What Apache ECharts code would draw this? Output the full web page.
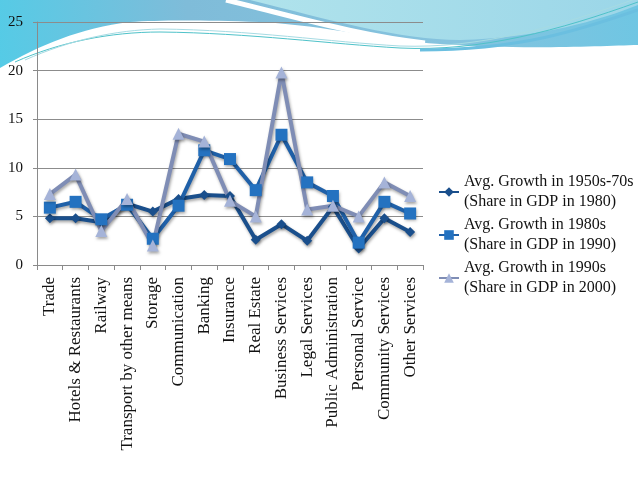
<!DOCTYPE html>
<html><head><meta charset="utf-8">
<script src="https://cdn.jsdelivr.net/npm/echarts@6/dist/echarts.min.js"></script>
<style>html,body{margin:0;padding:0;background:#fff}#c{width:638px;height:478px}</style>
</head><body><div id="c"></div>
<script>
var categories = ["Trade","Hotels & Restaurants","Railway","Transport by other means","Storage","Communication","Banking","Insurance","Real Estate","Business Services","Legal Services","Public Administration","Personal Service","Community Services","Other Services"];
var seriesNames = ["Avg. Growth in 1950s-70s\n(Share in GDP in 1980)","Avg. Growth in 1980s\n(Share in GDP in 1990)","Avg. Growth in 1990s\n(Share in GDP in 2000)"];
var growth5070 = [4.8,4.8,4.4,6.3,5.5,6.8,7.2,7.1,2.6,4.2,2.5,6.0,1.7,4.8,3.4];
var growth80s = [5.9,6.5,4.7,6.2,2.7,6.1,11.8,10.9,7.7,13.4,8.5,7.1,2.3,6.5,5.3];
var growth90s = [7.3,9.3,3.5,6.8,2.0,13.5,12.7,6.6,5.0,19.8,5.7,6.1,5.0,8.5,7.1];
var yTicks = {min:0, max:25, interval:5};

var decoPaths = {
  band: 'M0,0 L638,0 L638,45 C600,46 520,50 440,44 C380,40 330,26 260,22 C200,20 160,20 130,22 C80,28 40,45 0,68 Z',
  cyan: 'M250,0 L638,0 L638,5 C600,20 540,38 460,40 C400,40 330,20 250,0 Z',
  strip: 'M226,0 C300,18 360,36 425,43',
  thin1: 'M15,62 C60,42 110,32 160,32 C250,33 330,44 400,48 C480,52 560,30 638,2',
  thin2: 'M25,60 C70,40 115,30 160,29 C250,30 330,42 400,46 C480,49 560,26 638,-2',
  stripe: 'M420,50 C520,50 580,30 638,10'
};
var deco = [];
var decoStyles = {
  band:{fill:{type:'linear',x:0,y:1,x2:1,y2:0,colorStops:[{offset:0,color:'#55cbe6'},{offset:0.3,color:'#7fbcd9'},{offset:0.7,color:'#86c3de'},{offset:1,color:'#6fc6e3'}]}},
  cyan:{fill:{type:'linear',x:0,y:0,x2:1,y2:0,colorStops:[{offset:0,color:'#b0e3ec'},{offset:1,color:'#9bd6e8'}]}},
  strip:{fill:null, stroke:'#ffffff', lineWidth:5},
  thin1:{fill:null, stroke:'#4fc2c9', lineWidth:1},
  thin2:{fill:null, stroke:'#a6dbe3', lineWidth:1},
  stripe:{fill:null, stroke:'#6bbfe0', lineWidth:3}
};
Object.keys(decoPaths).forEach(function(k, i){
  try {
    echarts.graphic.registerShape('deco_' + k, echarts.graphic.extendPath(decoPaths[k], {}));
    deco.push({type:'deco_' + k, z:-10 + i, silent:true, style:decoStyles[k]});
  } catch(e) {}
});

var font = "'Liberation Serif', 'DejaVu Serif', serif";
var shadow = {shadowBlur:3, shadowColor:'rgba(0,0,0,0.35)', shadowOffsetX:1, shadowOffsetY:2};
function mkSeries(name, data, lineColor, markColor, symbol, size){
  return {name:name, type:'line', data:data, symbol:symbol, symbolSize:size,
    lineStyle:Object.assign({color:lineColor, width:4}, shadow),
    itemStyle:Object.assign({color:markColor, borderWidth:0}, shadow),
    emphasis:{disabled:true}, animation:false};
}
var chart = echarts.init(document.getElementById('c'));
chart.setOption({
  backgroundColor:'#ffffff',
  animation:false,
  graphic:deco,
  grid:{left:37, right:215, top:22, bottom:213, containLabel:false},
  legend:{
    orient:'vertical', left:433, top:157, itemWidth:20, itemHeight:12, itemGap:-17,
    data:seriesNames,
    textStyle:{fontFamily:font, fontSize:16, color:'#111', lineHeight:20, padding:[20,0,0,0]},
    selectedMode:false
  },
  xAxis:{type:'category', data:categories, boundaryGap:true,
    axisLine:{lineStyle:{color:'#8a8a8a', width:1}},
    axisTick:{show:true, length:5, lineStyle:{color:'#8a8a8a'}},
    axisLabel:{rotate:90, interval:0, margin:12, fontFamily:font, fontSize:17, color:'#111'}
  },
  yAxis:{type:'value', min:yTicks.min, max:yTicks.max, interval:yTicks.interval,
    axisLine:{show:true, lineStyle:{color:'#8a8a8a', width:1}},
    axisTick:{show:true, length:4, lineStyle:{color:'#8a8a8a'}},
    axisLabel:{margin:14, fontFamily:font, fontSize:15, color:'#111'},
    splitLine:{lineStyle:{color:'#8c8c8c', width:1}}
  },
  series:[
    mkSeries(seriesNames[0], growth5070, '#1a4f8c', '#1a4f8c', 'diamond', 10),
    mkSeries(seriesNames[1], growth80s, '#1f60a8', '#2472c0', 'rect', 12),
    mkSeries(seriesNames[2], growth90s, '#7f8db5', '#a5b3d8', 'triangle', 12)
  ]
});
</script></body></html>
